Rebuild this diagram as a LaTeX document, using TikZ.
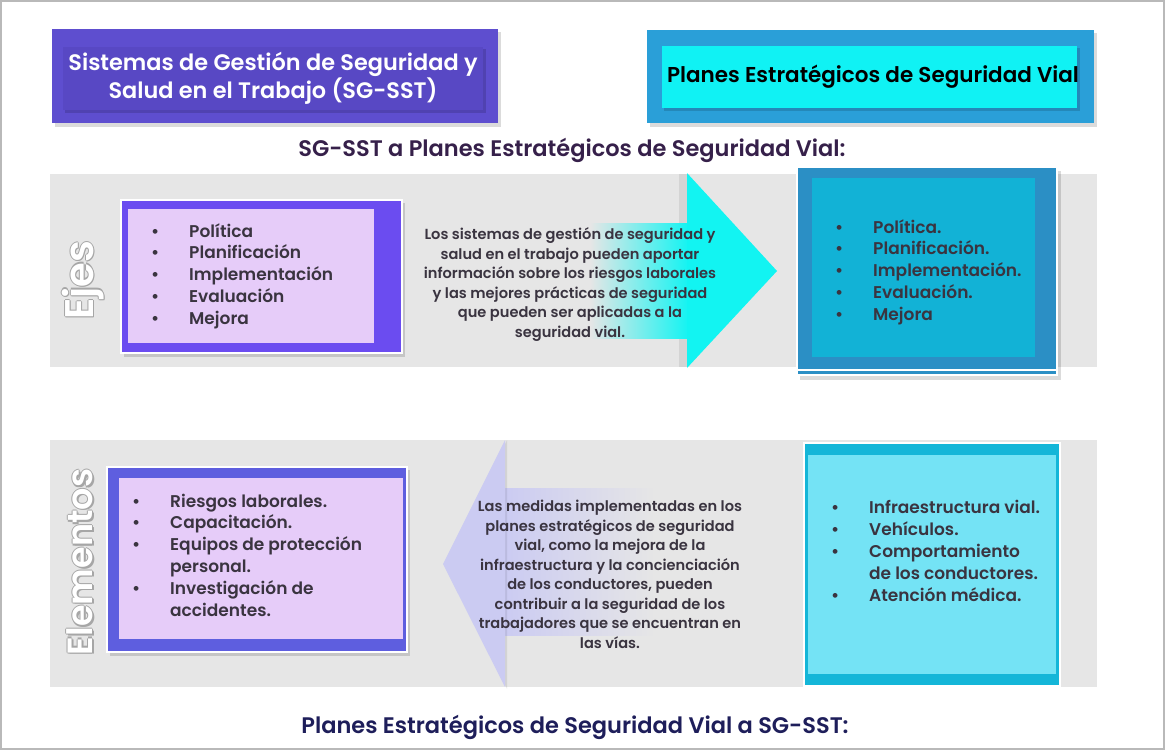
\documentclass[tikz,border=0pt]{standalone}
\usepackage{fontspec}
\setmainfont{Poppins}[BoldFont={Poppins SemiBold}]
\usepackage{xcolor}
\definecolor{BandGray}{HTML}{E6E6E6}
\definecolor{BandShade}{HTML}{D4D4D4}
\definecolor{SgOuter}{HTML}{5E4ECF}
\definecolor{SgInner}{HTML}{5848C4}
\definecolor{PevOuter}{HTML}{2A9FD8}
\definecolor{PevInner}{HTML}{10F2F4}
\definecolor{EjesPurple}{HTML}{6B4CF0}
\definecolor{Lavender}{HTML}{E6CCF9}
\definecolor{EjesBlue}{HTML}{2B8FC5}
\definecolor{EjesCyan}{HTML}{12B2D6}
\definecolor{ElemPurple}{HTML}{5E5EDF}
\definecolor{ArrowCyan}{HTML}{12F4F2}
\definecolor{ArrowLav}{HTML}{CBCBF2}
\definecolor{ElemCyan}{HTML}{14B6D8}
\definecolor{ElemLight}{HTML}{74E3F5}
\definecolor{TitlePurple}{HTML}{36204A}
\definecolor{TitleNavy}{HTML}{1E1E5A}
\definecolor{TextGray}{HTML}{3A3440}

\newcommand{\bul}{\makebox[38pt][l]{\textbullet}}
\newcommand{\ind}{\hspace*{38pt}}

\begin{document}
\begin{tikzpicture}[x=1pt,y=1pt,yscale=-1,xscale=1,
		shadowbox/.style={black,opacity=0.14},
		boxtitle/.style={inner sep=0pt,align=center,font=\bfseries\fontsize{21.5}{27}\selectfont},
		sectitle/.style={inner sep=0pt,font=\bfseries\fontsize{22.5}{25}\selectfont},
		listtext/.style={inner sep=0pt,anchor=west,align=left,text=TextGray,font=\bfseries\fontsize{17}{21.8}\selectfont},
		midtext/.style={inner sep=0pt,align=center,text=TextGray,font=\bfseries\fontsize{14.6}{19.5}\selectfont},
		sidelabel/.style={inner sep=0pt,rotate=90,font=\bfseries\fontsize{40}{40}\selectfont}]
		\useasboundingbox (0,0) rectangle (1170,752);

		% Page frame
		\draw[gray!55, line width=1.2pt] (1,1) rectangle (1164,749);

		% Top left box (SG-SST)
		\fill[shadowbox] (55,32) rectangle (501,127);
		\fill[SgOuter] (52,29) rectangle (498,123);
		\fill[shadowbox] (65,49) rectangle (486,113);
		\fill[SgInner] (63,47) rectangle (483,110);
		\node[boxtitle, text=white, font=\bfseries\fontsize{22.4}{28}\selectfont] (sgtitle) at (273,78) {Sistemas de Gestión de Seguridad y\\Salud en el Trabajo (SG-SST)};

		% Top right box (PESV)
		\fill[shadowbox] (650,33) rectangle (1097,127);
		\fill[PevOuter] (647,30) rectangle (1094,123);
		\fill[shadowbox] (664,48) rectangle (1080,111);
		\fill[PevInner] (662,46) rectangle (1077,108);
		\node[boxtitle, text=black] (pevtitle) at (873,77) {Planes Estratégicos de Seguridad Vial};

		% First section title
		\node[sectitle, text=TitlePurple] (title1) at (572,150) {SG-SST a Planes Estratégicos de Seguridad Vial:};

		% First gray band with the arrow to the right
		\fill[BandGray] (50,174) rectangle (1097,367);
		\fill[BandShade] (679,174) rectangle (688,367);
		\shade[left color=BandGray, right color=ArrowCyan] (590,223) rectangle (689,338);
		\fill[ArrowCyan] (687,173) -- (777,271) -- (687,368) -- cycle;

		% Rotated label "Ejes"
		\foreach \dx/\dy in {-1.2/0,1.2/0,0/-1.2,0/1.2,1.5/1.5}
			\node[sidelabel, text=gray!70] at (83+\dx,280+\dy) {Ejes};
		\node[sidelabel, text=white] (ejes) at (83,280) {Ejes};

		% Left box of the first band
		\fill[shadowbox] (124,203) rectangle (405,357);
		\filldraw[EjesPurple, draw=white, line width=1.5pt] (121,200) rectangle (402,353);
		\fill[Lavender] (128,209) rectangle (374,343);
		\node[listtext] (ejeslist) at (151,276) {\bul Política\\\bul Planificación\\\bul Implementación\\\bul Evaluación\\\bul Mejora};

		% Middle text of the first band
		\node[midtext] (ejestext) at (570,284.5) {Los sistemas de gestión de seguridad y\\salud en el trabajo pueden aportar\\información sobre los riesgos laborales\\y las mejores prácticas de seguridad\\que pueden ser aplicadas a la\\seguridad vial.};

		% Right box of the first band
		\fill[shadowbox] (800,171) rectangle (1061,380);
		\filldraw[EjesBlue, draw=white, line width=1.5pt] (797,167) rectangle (1057,375);
		\draw[white, line width=1.5pt] (797,370) -- (1057,370);
		\fill[EjesCyan] (812,178) rectangle (1035,357);
		\node[listtext] (pesvlist) at (835,272) {\bul Política.\\\bul Planificación.\\\bul Implementación.\\\bul Evaluación.\\\bul Mejora};

		% Second gray band with the arrow to the left
		\fill[BandGray] (50,440) rectangle (1097,687);
		\shade[left color=ArrowLav, right color=BandGray] (504,488) rectangle (655,635);
		\fill[black, opacity=0.08] (507,440) -- (446,564) -- (507,689) -- cycle;
		\fill[ArrowLav] (505,440) -- (443,564) -- (505,687) -- cycle;

		% Rotated label "Elementos"
		\foreach \dx/\dy in {-1.2/0,1.2/0,0/-1.2,0/1.2,1.5/1.5}
			\node[sidelabel, text=gray!70, font=\bfseries\fontsize{35}{35}\selectfont] at (80+\dx,562+\dy) {Elementos};
		\node[sidelabel, text=white, font=\bfseries\fontsize{35}{35}\selectfont] (elementos) at (80,562) {Elementos};

		% Left box of the second band
		\fill[shadowbox] (110,470) rectangle (410,656);
		\filldraw[ElemPurple, draw=white, line width=1.5pt] (107,467) rectangle (407,652);
		\fill[Lavender] (119,478) rectangle (403,639);
		\node[listtext] (sstlist) at (132,555) {\bul Riesgos laborales.\\\bul Capacitación.\\\bul Equipos de protección\\\ind personal.\\\bul Investigación de\\\ind accidentes.};

		% Middle text of the second band
		\node[midtext] (elemtext) at (610,574.5) {Las medidas implementadas en los\\planes estratégicos de seguridad\\vial, como la mejora de la\\infraestructura y la concienciación\\de los conductores, pueden\\contribuir a la seguridad de los\\trabajadores que se encuentran en\\las vías.};

		% Right box of the second band
		\filldraw[ElemCyan, draw=white, line width=1.5pt] (804,443) rectangle (1060,686);
		\fill[ElemLight] (808,455) rectangle (1056,674);
		\node[listtext] (vialist) at (831,551) {\bul Infraestructura vial.\\\bul Vehículos.\\\bul Comportamiento\\\ind de los conductores.\\\bul Atención médica.};

		% Second section title
		\node[sectitle, text=TitleNavy] (title2) at (575,727) {Planes Estratégicos de Seguridad Vial a SG-SST:};
	\end{tikzpicture}
\end{document}
